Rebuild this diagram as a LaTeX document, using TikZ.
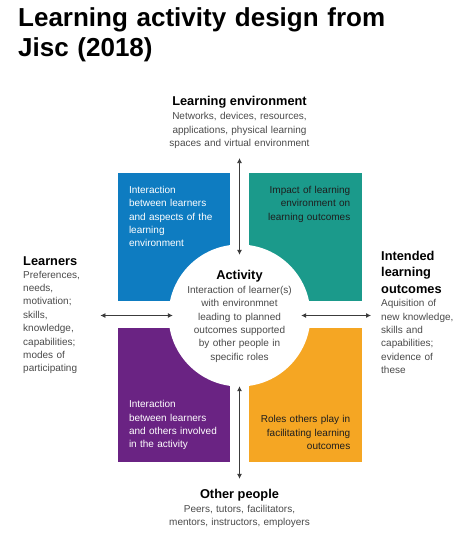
\documentclass[tikz,border=0pt]{standalone}
\usepackage{fontspec}
\setmainfont{Liberation Sans}
\usetikzlibrary{positioning,arrows.meta}
\tikzset{>={Latex[length=5pt,width=5pt]}}
\definecolor{jblue}{HTML}{0E7CC1}
\definecolor{jteal}{HTML}{1B9A8B}
\definecolor{jpurple}{HTML}{6A2383}
\definecolor{jorange}{HTML}{F5A623}
\definecolor{txtgray}{HTML}{4A4A4A}
\definecolor{darktxt}{HTML}{1E1E1E}
\definecolor{linegray}{HTML}{3C3C3C}

\begin{document}
\begin{tikzpicture}[x=1pt, y=-1pt,
  hd/.style={font=\fontsize{12.8}{16.7}\selectfont\bfseries, inner sep=0, text=black},
  txt/.style={font=\fontsize{10}{13.4}\selectfont, inner sep=0, text=txtgray},
  sq/.style={minimum width=112.5pt, inner sep=0, outer sep=0},
  sqtxt/.style={font=\fontsize{10}{13.4}\selectfont, inner sep=0, text width=100pt}]
\tikzset{lnk/.style={<->, draw=linegray, line width=0.8pt}}
\useasboundingbox (0,0) rectangle (474,540);
\node[anchor=base west, inner sep=0, align=left, text width=420pt, font=\fontsize{26}{29.7}\selectfont\bfseries] (title) at (18,27) {Learning activity design from\\Jisc (2018)};
% quadrants round the activity
\coordinate (mid) at (239.5,315.5);
\node[sq, fill=jblue, minimum height=128pt, above left=14.5pt and 9.5pt of mid] (blue) {};
\node[sq, fill=jteal, minimum height=128pt, above right=14.5pt and 9.5pt of mid] (teal) {};
\node[sq, fill=jpurple, minimum height=134pt, below left=12.5pt and 9.5pt of mid] (purple) {};
\node[sq, fill=jorange, minimum height=134pt, below right=12.5pt and 9.5pt of mid] (orange) {};
\node[circle, fill=white, minimum size=142pt, inner sep=0] (act) at (mid) {};
\node[sqtxt, text=white, align=left, below right=20.3pt and 11.3pt of blue.north west, anchor=base west] (bluet) {Interaction\\between learners\\and aspects of the\\learning\\environment};
\node[sqtxt, text=darktxt, align=right, below left=20.3pt and 11pt of teal.north east, anchor=base east] (tealt) {Impact of learning\\environment on\\learning outcomes};
\node[sqtxt, text=white, align=left, below right=79.7pt and 11.3pt of purple.north west, anchor=base west] (purplet) {Interaction\\between learners\\and others involved\\in the activity};
\node[sqtxt, text=darktxt, align=right, below left=94.7pt and 11pt of orange.north east, anchor=base east] (oranget) {Roles others play in\\facilitating learning\\outcomes};
% activity
\node[hd, above=36.2pt of act.center, anchor=base] (acth) {Activity};
\node[txt, align=center, text width=130pt, below=14pt of acth.base, anchor=base] (actt) {Interaction of learner(s)\\with environmnet\\leading to planned\\outcomes supported\\by other people in\\specific roles};
% the four sides
\node[hd, anchor=base] (envh) at (239.5,106) {Learning environment};
\node[txt, align=center, text width=180pt, below=14pt of envh.base, anchor=base] (env) {Networks, devices, resources,\\applications, physical learning\\spaces and virtual environment};
\node[hd, anchor=base west] (lrnh) at (23,265) {Learners};
\node[txt, align=left, text width=62pt, below=13pt of lrnh.base west, anchor=base west] (lrn) {Preferences,\\needs,\\motivation;\\skills,\\knowledge,\\capabilities;\\modes of\\participating};
\node[hd, align=left, text width=80pt, anchor=base west] (outh) at (381,260) {Intended\\learning\\outcomes};
\node[txt, align=left, text width=80pt, anchor=base west] (out) at (381,306.7) {Aquisition of\\new knowledge,\\skills and\\capabilities;\\evidence of\\these};
\node[hd, anchor=base] (othh) at (239.5,498.3) {Other people};
\node[txt, align=center, text width=180pt, below=14pt of othh.base, anchor=base] (oth) {Peers, tutors, facilitators,\\mentors, instructors, employers};
\draw[lnk] ([yshift=-9pt]env.south) -- ([yshift=-10.5pt]act.north);
\draw[lnk] ([yshift=0.5pt]act.south) -- ([yshift=10pt]othh.north);
\draw[lnk] ([xshift=15pt]lrn.east |- act.center) -- ([xshift=4.5pt]act.west);
\draw[lnk] ([xshift=-9.5pt]act.east) -- ([xshift=-10pt]out.west |- act.center);
\end{tikzpicture}
\end{document}
